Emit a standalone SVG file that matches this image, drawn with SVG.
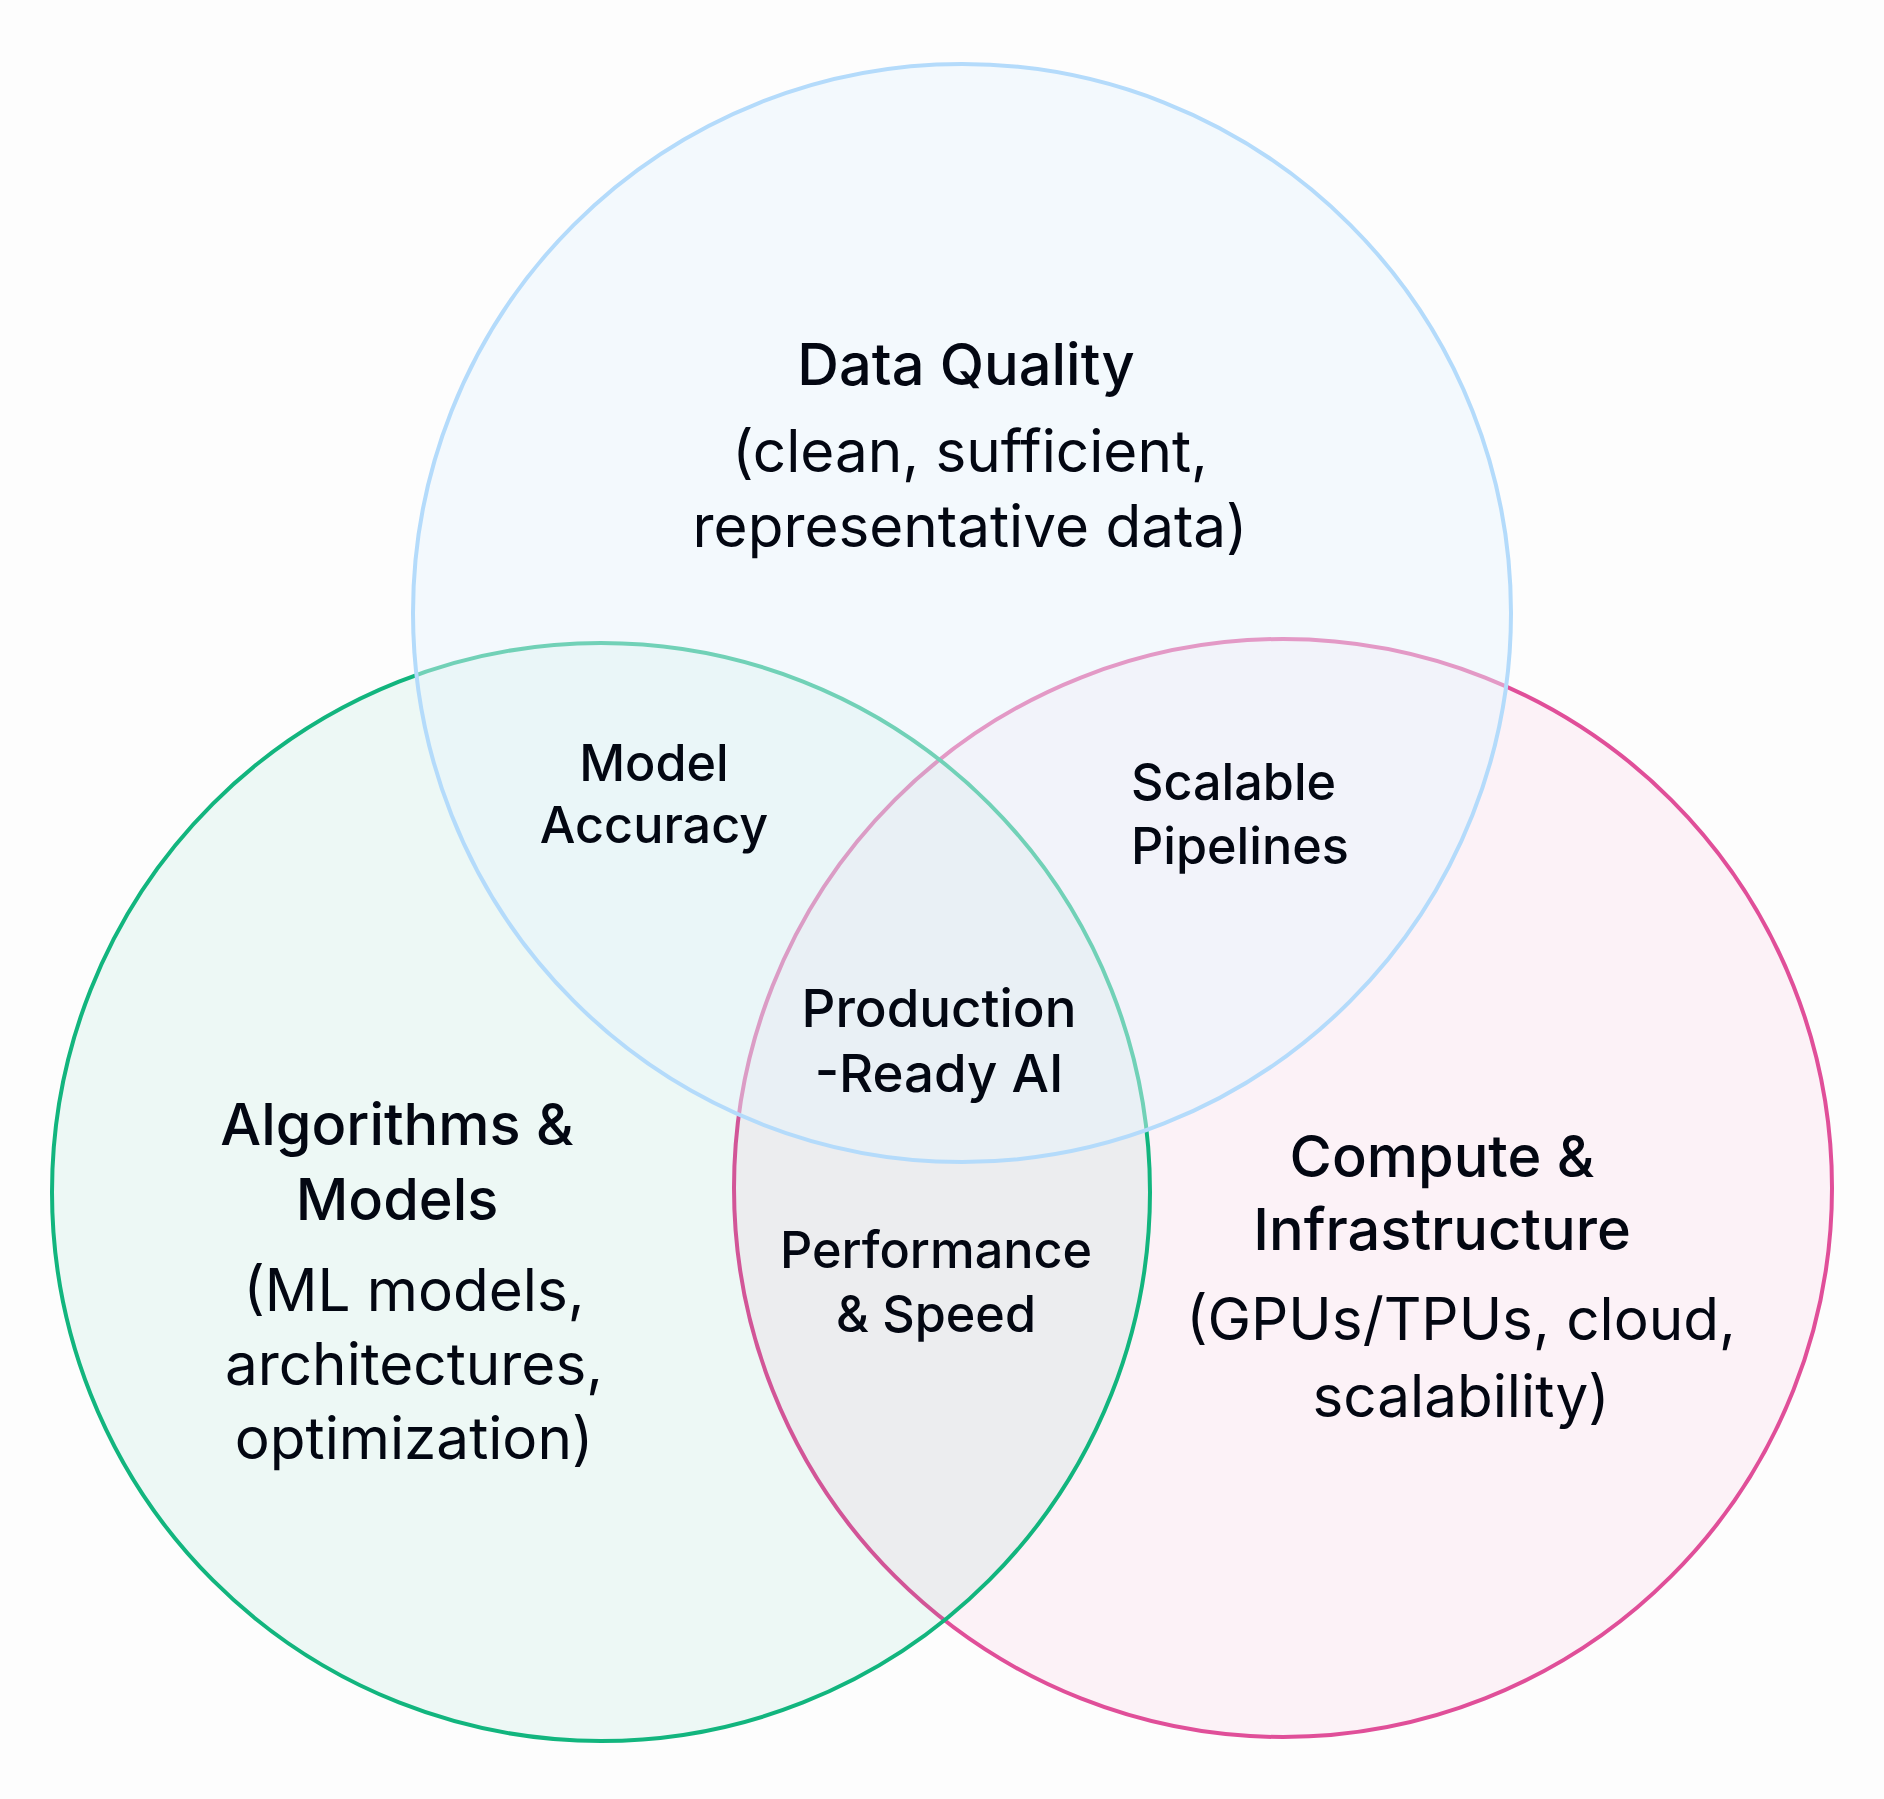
<svg xmlns="http://www.w3.org/2000/svg" width="1884" height="1799" viewBox="0 0 1884 1799">
  <style>
    .set { stroke-width: 4; }
    .t { font-family: Inter, "Noto Sans", "Liberation Sans", sans-serif; fill: #030712; text-anchor: middle; }
    .title { font-size: 57.7px; font-weight: 500; }
    .desc { font-size: 58.4px; font-weight: 400; }
    .lbl { font-size: 50.3px; font-weight: 500; }
    .core { font-size: 52.8px; }
    .start { text-anchor: start; }
  </style>
  <rect width="1884" height="1799" fill="#fdfdfd"/>
  <g id="set-compute">
    <circle class="set" cx="1283" cy="1188" r="549" fill="#ec4899" fill-opacity="0.06" stroke="#e04f99"/>
  </g>
  <g id="set-algorithms">
    <circle class="set" cx="601" cy="1192" r="549" fill="#10b981" fill-opacity="0.065" stroke="#12b57e"/>
  </g>
  <g id="set-data">
    <circle class="set" cx="962" cy="613" r="549" fill="#e7f3fc" fill-opacity="0.45" stroke="#b4dbfb"/>
  </g>
  <g id="connectors"></g>
  <g id="label-data">
    <text class="t title" x="966" y="385">Data Quality</text>
    <text class="t desc" x="970" y="472">(clean, sufficient,</text>
    <text class="t desc" x="970" y="547">representative data)</text>
  </g>
  <g id="label-algorithms">
    <text class="t title" x="397" y="1145">Algorithms &amp;</text>
    <text class="t title" x="397" y="1220">Models</text>
    <text class="t desc" x="414" y="1311">(ML models,</text>
    <text class="t desc" x="414" y="1385">architectures,</text>
    <text class="t desc" x="414" y="1459">optimization)</text>
  </g>
  <g id="label-compute">
    <text class="t title" x="1442" y="1177">Compute &amp;</text>
    <text class="t title" x="1442" y="1250">Infrastructure</text>
    <text class="t desc" x="1461" y="1340">(GPUs/TPUs, cloud,</text>
    <text class="t desc" x="1461" y="1417">scalability)</text>
  </g>
  <g id="overlap-data-algorithms">
    <text class="t lbl" x="654" y="781">Model</text>
    <text class="t lbl" x="654" y="843">Accuracy</text>
  </g>
  <g id="overlap-data-compute">
    <text class="t lbl start" x="1131" y="800">Scalable</text>
    <text class="t lbl start" x="1131" y="864">Pipelines</text>
  </g>
  <g id="overlap-all">
    <text class="t lbl core" x="939" y="1027">Production</text>
    <text class="t lbl core" x="939" y="1092">-Ready AI</text>
  </g>
  <g id="overlap-algorithms-compute">
    <text class="t lbl" x="936" y="1268">Performance</text>
    <text class="t lbl" x="936" y="1332">&amp; Speed</text>
  </g>
</svg>
